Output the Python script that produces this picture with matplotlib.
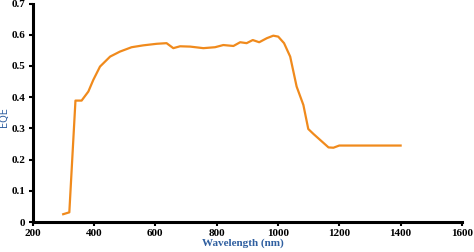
import matplotlib
matplotlib.use("Agg")
import matplotlib.pyplot as plt

# EQE spectrum
wavelength = [300, 320, 340, 360, 382, 398, 420, 453, 485, 523, 561, 605, 637,
              659, 681, 714, 757, 795, 822, 855, 877, 898, 918, 939, 964, 985,
              1001, 1020, 1040, 1061, 1083, 1099, 1116, 1165, 1181, 1200, 1400]
eqe = [0.025, 0.031, 0.389, 0.389, 0.418, 0.455, 0.498, 0.530, 0.546, 0.560,
       0.566, 0.571, 0.573, 0.557, 0.563, 0.562, 0.557, 0.560, 0.567, 0.564,
       0.576, 0.573, 0.583, 0.576, 0.589, 0.597, 0.594, 0.573, 0.530, 0.434,
       0.375, 0.298, 0.282, 0.239, 0.238, 0.245, 0.245]

xticks = [200, 400, 600, 800, 1000, 1200, 1400, 1600]
yticks = [0, 0.1, 0.2, 0.3, 0.4, 0.5, 0.6, 0.7]
yticklabels = ["0", "0.1", "0.2", "0.3", "0.4", "0.5", "0.6", "0.7"]

fig = plt.figure(figsize=(4.74, 2.52), dpi=100)
ax = fig.add_axes([0.0686, 0.119, 0.906, 0.867])

ax.plot(wavelength, eqe, color="#f08a1c", lw=1.6)

ax.set_xlim(200, 1600)
ax.set_ylim(0, 0.7)
ax.set_xticks(xticks)
ax.set_yticks(yticks)
ax.set_yticklabels(yticklabels)

for side in ["top", "right"]:
    ax.spines[side].set_visible(False)
for side in ["left", "bottom"]:
    ax.spines[side].set_linewidth(2.2)

ax.tick_params(direction="out", length=3, width=1.5, pad=2)
for lab in ax.get_xticklabels() + ax.get_yticklabels():
    lab.set_fontfamily("Liberation Serif")
    lab.set_fontweight("bold")
    lab.set_fontsize(8)

ax.set_xlabel("Wavelength (nm)", fontfamily="Liberation Serif", fontweight="bold",
              fontsize=8, color="#2f5fa0")
ax.xaxis.set_label_coords(0.49, -0.075)
ax.set_ylabel("EQE", fontfamily="DejaVu Sans", fontsize=7, color="#2f5fa0")
ax.yaxis.set_label_coords(-0.055, 0.48)

fig.savefig("out.png", dpi=100)
